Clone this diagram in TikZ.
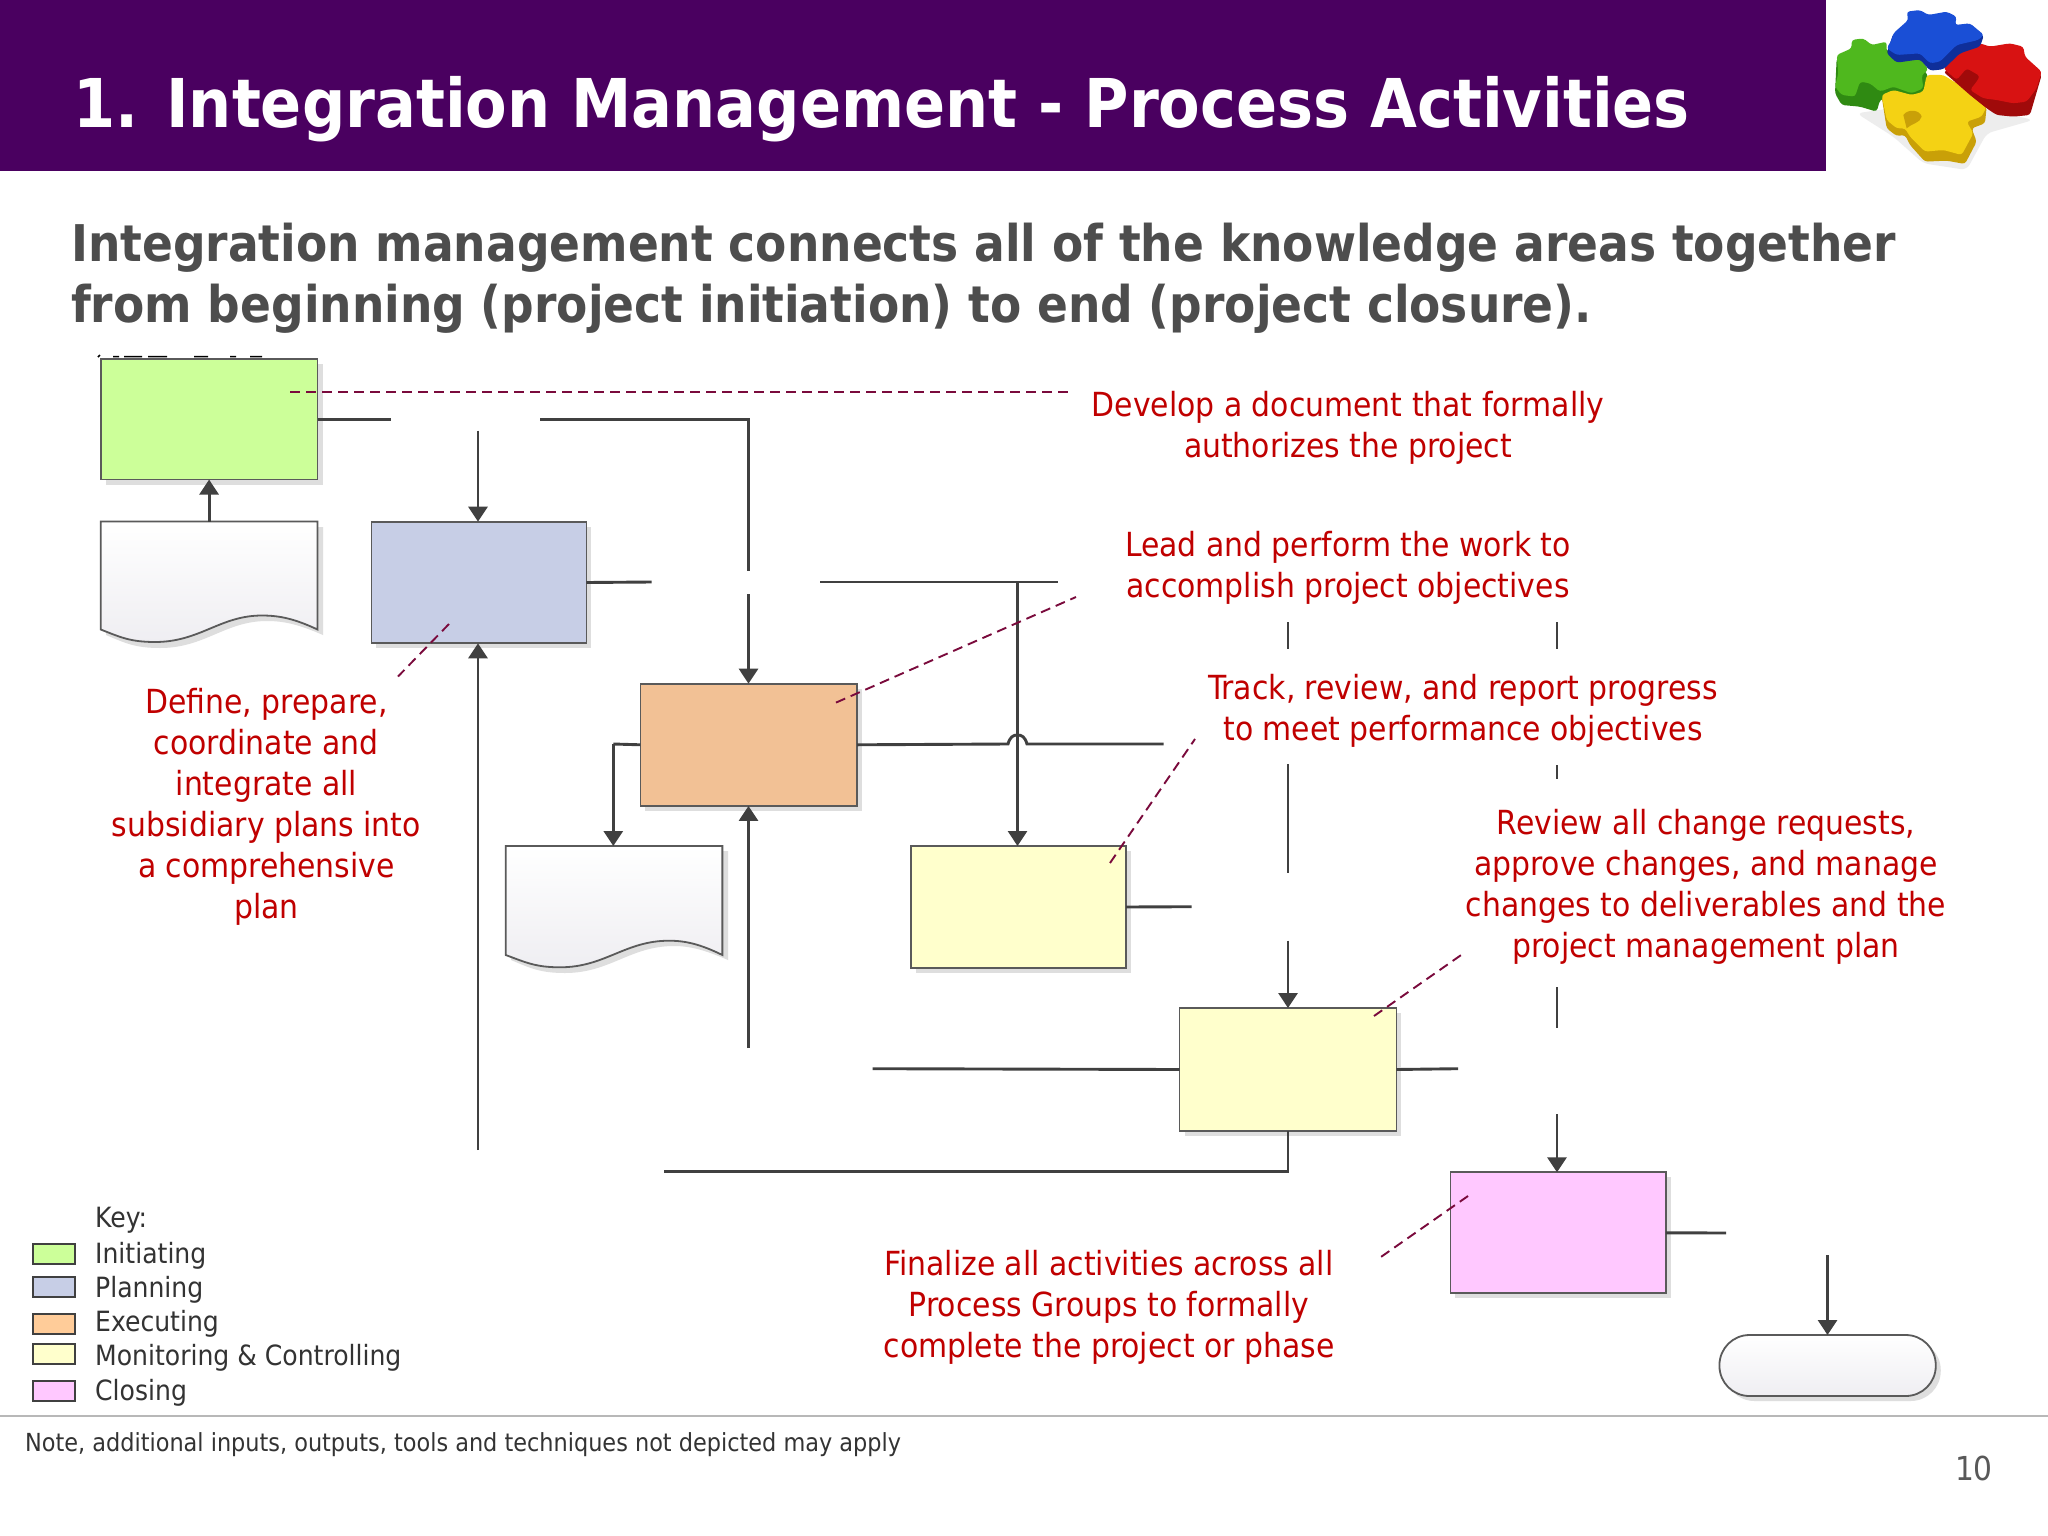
\documentclass[tikz,border=0pt]{standalone}
\usepackage{fontspec}
\setmainfont{DejaVu Sans Condensed}
\usetikzlibrary{arrows.meta,shadows,calc}
\definecolor{headcol}{HTML}{4A0060}
\definecolor{subcol}{HTML}{4D4D4D}
\definecolor{redtxt}{HTML}{C00000}
\definecolor{dashcol}{HTML}{7A0A3C}
\definecolor{linecol}{HTML}{404040}
\definecolor{edgecol}{HTML}{5A5A5A}
\definecolor{greenbox}{HTML}{CCFF99}
\definecolor{bluebox}{HTML}{C7CEE6}
\definecolor{orangebox}{HTML}{F2C195}
\definecolor{keyorange}{HTML}{FFCC99}
\definecolor{yellowbox}{HTML}{FFFFCC}
\definecolor{pinkbox}{HTML}{FFC8FF}
\definecolor{docbot}{HTML}{EFEEF2}
\definecolor{shadowcol}{HTML}{DEDEDE}
\definecolor{keytxt}{HTML}{333333}
\definecolor{pgnum}{HTML}{595959}
\definecolor{pzgreen}{HTML}{4FB81E}
\definecolor{pzgreend}{HTML}{2F8A12}
\definecolor{pzblue}{HTML}{1A4FD6}
\definecolor{pzblued}{HTML}{0F2F9A}
\definecolor{pzred}{HTML}{D81212}
\definecolor{pzredd}{HTML}{A00A0A}
\definecolor{pzyel}{HTML}{F4D214}
\definecolor{pzyeld}{HTML}{C9A008}
\tikzset{
  procbox/.style={draw=edgecol,line width=1.8pt,minimum width=#1,inner sep=0pt,outer sep=0pt,
    drop shadow={shadow xshift=5pt,shadow yshift=-5pt,fill=shadowcol,opacity=1}},
  conn/.style={draw=linecol,line width=2.9pt},
  arr/.style={conn,-{Triangle[length=15pt,width=19pt]}},
  calldash/.style={draw=dashcol,line width=1.9pt,dash pattern=on 10pt off 6pt},
  redlabel/.style={text=redtxt,align=center,font=\fontsize{33.2}{41}\selectfont,inner sep=0pt},
  keybox/.style={draw=linecol,line width=2pt,inner sep=0pt,minimum width=42pt,minimum height=20pt},
  keylabel/.style={text=keytxt,anchor=west,inner sep=0pt,font=\fontsize{27.9}{30}\selectfont},
  docshape/.style={draw=edgecol,line width=1.8pt,top color=white,bottom color=docbot},
  artefact/.style={draw=black,line width=1.5pt}
}
\begin{document}
\begin{tikzpicture}[x=1pt,y=-1pt]
\useasboundingbox (0,0) rectangle (2048,1536);
\fill[white] (0,0) rectangle (2048,1536);
% header
\fill[headcol] (0,0) rectangle (1826,171);
\node[anchor=base west,text=white,inner sep=0pt,font=\bfseries\fontsize{67.3}{70}\selectfont] (title) at (73,128) {1. Integration Management - Process Activities};
\node[anchor=base west,text=subcol,inner sep=0pt,font=\bfseries\fontsize{50.6}{61}\selectfont] (sub1) at (71,261) {Integration management connects all of the knowledge areas together};
\node[anchor=base west,text=subcol,inner sep=0pt,font=\bfseries\fontsize{50.6}{61}\selectfont] (sub2) at (71,322) {from beginning (project initiation) to end (project closure).};
% puzzle picture
\begin{scope}[shift={(1780,0)},x=0.3333pt,y=-0.3333pt]
  \fill[black!7,rounded corners=6pt] (230,340) -- (340,410) -- (430,490) -- (560,510) -- (620,400) -- (760,360) -- (500,300) -- cycle;
  % green
  \fill[pzgreend,rounded corners=3pt] (170,175) -- (215,155) -- (250,135) -- (320,145) -- (350,200) -- (420,190) -- (445,230) -- (430,290) -- (395,300) -- (340,285) -- (300,300) -- (290,335) -- (240,320) -- (185,315) -- (165,280) -- cycle;
  \fill[pzgreen,rounded corners=3pt] (170,165) -- (215,145) -- (215,120) -- (250,115) -- (275,135) -- (320,125) -- (320,160) -- (350,180) -- (420,170) -- (445,210) -- (425,225) -- (430,265) -- (395,280) -- (340,260) -- (300,275) -- (270,250) -- (240,245) -- (225,290) -- (185,285) -- (165,260) -- (175,220) -- cycle;
  % yellow
  \fill[pzyeld,rounded corners=3pt] (305,290) -- (320,385) -- (350,408) -- (375,405) -- (390,435) -- (435,485) -- (500,482) -- (555,492) -- (590,425) -- (575,385) -- (615,370) -- (620,320) -- cycle;
  \fill[pzyel,rounded corners=3pt] (305,285) -- (340,270) -- (395,285) -- (430,275) -- (440,225) -- (490,225) -- (530,250) -- (590,240) -- (570,280) -- (620,320) -- (605,350) -- (560,365) -- (580,400) -- (545,465) -- (490,450) -- (435,455) -- (390,410) -- (375,385) -- (350,385) -- (320,360) -- cycle;
  \fill[pzyeld] (370,345) .. controls (385,325) and (420,330) .. (425,350) .. controls (420,370) and (395,370) .. (380,385) -- cycle;
  % red
  \fill[pzredd,rounded corners=3pt] (490,215) -- (570,285) -- (620,325) -- (650,345) -- (700,350) -- (750,345) -- (785,225) -- (690,150) -- cycle;
  \fill[pzred,rounded corners=3pt] (490,205) -- (540,150) -- (600,130) -- (630,140) -- (690,130) -- (730,140) -- (735,170) -- (785,215) -- (770,265) -- (740,305) -- (700,310) -- (650,300) -- (610,295) -- (570,270) -- (590,245) -- (600,228) -- (560,205) -- (530,240) -- cycle;
  % blue
  \fill[pzblued,rounded corners=3pt] (320,160) -- (350,188) -- (420,178) -- (450,212) -- (490,208) -- (540,160) -- (600,140) -- (612,105) -- (340,100) -- cycle;
  \fill[pzblue,rounded corners=3pt] (340,100) -- (385,60) -- (380,35) -- (420,30) -- (445,45) -- (500,35) -- (530,50) -- (525,75) -- (570,70) -- (612,105) -- (595,120) -- (530,135) -- (480,185) -- (450,190) -- (420,160) -- (350,165) -- (320,145) -- (335,120) -- cycle;
\end{scope}
% process boxes
\node[procbox=216.8pt,minimum height=120.5pt,fill=greenbox] (initbox) at (209.1,419.3) {};
\node[procbox=215pt,minimum height=121.6pt,fill=bluebox] (planbox) at (478.9,582.5) {};
\node[procbox=216.6pt,minimum height=122.3pt,fill=orangebox] (execbox) at (748.7,744.8) {};
\node[procbox=215pt,minimum height=122pt,fill=yellowbox] (monbox) at (1018.5,907) {};
\node[procbox=216.9pt,minimum height=123pt,fill=yellowbox] (chgbox) at (1288,1069.5) {};
\node[procbox=215.5pt,minimum height=121pt,fill=pinkbox] (closebox) at (1558.2,1232.8) {};
\node[draw=none,minimum width=216.8pt,minimum height=108pt,inner sep=0pt,outer sep=0pt] (doca) at (209.1,575.5) {};
\node[draw=none,minimum width=216.7pt,minimum height=109pt,inner sep=0pt,outer sep=0pt] (docb) at (614,900.5) {};
% documents
\fill[shadowcol] (106,527) -- (323,527) -- (323,635) .. controls (300,625) and (285,621) .. (267,621) .. controls (225,621) and (205,648) .. (160,648) .. controls (135,648) and (125,643) .. (106,635) -- cycle;
\draw[docshape] (doca.north west) -- (doca.north east) -- (doca.south east) .. controls (295,619) and (280,615.5) .. (262,615.5) .. controls (220,615.5) and (200,642) .. (155,642) .. controls (130,642) and (120,637) .. (doca.south west) -- cycle;
\fill[shadowcol] (511,851) -- (728,851) -- (728,960) .. controls (705,950) and (690,946) .. (674,946) .. controls (630,946) and (610,973) .. (565,973) .. controls (540,973) and (530,968) .. (511,960) -- cycle;
\draw[docshape] (docb.north west) -- (docb.north east) -- (docb.south east) .. controls (700,944) and (685,940.7) .. (669,940.7) .. controls (625,940.7) and (605,967.3) .. (560,967.3) .. controls (535,967.3) and (525,962) .. (docb.south west) -- cycle;
% terminator
\node[draw=edgecol,line width=1.8pt,minimum width=216.3pt,minimum height=61pt,inner sep=0pt,outer sep=0pt,rounded corners=30pt,top color=white,bottom color=docbot,drop shadow={shadow xshift=5pt,shadow yshift=-5pt,fill=shadowcol,opacity=1}] (termbox) at (1827.6,1365.5) {};
% free-end coordinates
\coordinate (initstub) at (391.4,419.3);
\coordinate (initr) at (540,419.3);
\coordinate (initcorner) at (748.5,419.3);
\coordinate (toexecgap) at (748.5,571);
\coordinate (toexec) at (748.5,594);
\coordinate (toplan) at (478,430.7);
\coordinate (fromchg) at (478,1150);
\coordinate (execup) at (748.5,1048);
\coordinate (planstub) at (651.7,582);
\coordinate (planr) at (820,582);
\coordinate (planend) at (1058,582);
\coordinate (plandown) at (1017.5,582);
\coordinate (hopa) at (1008,744);
\coordinate (hopb) at (1027,744);
\coordinate (execend) at (1163.5,744);
\coordinate (execl) at (613.3,744);
\coordinate (monstub) at (1191.6,906.7);
\coordinate (chgin) at (872.6,1068.7);
\coordinate (chgstub) at (1458,1068.7);
\coordinate (chgdown) at (1288,1171.8);
\coordinate (chgleft) at (663.7,1171.8);
\coordinate (va1) at (1288,622);
\coordinate (va2) at (1288,649);
\coordinate (va3) at (1288,764);
\coordinate (va4) at (1288,873);
\coordinate (va5) at (1288,940.6);
\coordinate (vb1) at (1557,622);
\coordinate (vb2) at (1557,649);
\coordinate (vb3) at (1557,765);
\coordinate (vb4) at (1557,779);
\coordinate (vb5) at (1557,987);
\coordinate (vb6) at (1557,1028);
\coordinate (vb7) at (1557,1114);
\coordinate (closestub) at (1726,1233);
\coordinate (toterm) at (1827.5,1255);
% connectors
\draw[arr] (doca.north) -- (initbox.south);
\draw[conn] (initbox.east) -- (initstub);
\draw[conn] (initr) -- (initcorner) -- (toexecgap);
\draw[arr] (toexec) -- (execbox.north -| toexec);
\draw[arr] (toplan) -- (planbox.north -| toplan);
\draw[arr] (fromchg) -- (planbox.south -| fromchg);
\draw[arr] (execup) -- (execbox.south -| execup);
\draw[conn] (planbox.east) -- (planstub);
\draw[conn] (planr) -- (planend);
\draw[arr] (plandown) -- (monbox.north -| plandown);
\draw[conn] (execbox.east) -- (hopa) .. controls (1010,737) and (1013,735) .. (1017.5,735) .. controls (1022,735) and (1025,737) .. (hopb) -- (execend);
\draw[conn] (execbox.west) -- (execl);
\draw[arr] (execl) -- (docb.north -| execl);
\draw[conn] (monbox.east) -- (monstub);
\draw[conn] (chgin) -- (chgbox.west);
\draw[conn] (chgbox.east) -- (chgstub);
\draw[conn] (chgbox.south) -- (chgdown) -- (chgleft);
\draw[conn] (va1) -- (va2);
\draw[conn] (va3) -- (va4);
\draw[arr] (va5) -- (chgbox.north);
\draw[conn] (vb1) -- (vb2);
\draw[conn] (vb3) -- (vb4);
\draw[conn] (vb5) -- (vb6);
\draw[arr] (vb7) -- (closebox.north -| vb7);
\draw[conn] (closebox.east) -- (closestub);
\draw[arr] (toterm) -- (termbox.north -| toterm);
% artefacts above the first box
\draw[artefact] (98,357) -- (100,355) (113,356.5) -- (119,356.5) (124,356.5) -- (142,356.5) (148,356.5) -- (167,356.5) (194,356.5) -- (208,356.5) (230,356.5) -- (236,356.5) (250,356.5) -- (262,356.5);
% callouts
\node[redlabel] (l1) at (1348,427.5) {Develop a document that formally\\authorizes the project};
\node[redlabel] (l2) at (1348,567.5) {Lead and perform the work to\\accomplish project objectives};
\node[redlabel] (l3) at (1463,711) {Track, review, and report progress\\to meet performance objectives};
\node[redlabel] (l4) at (1706,886.5) {Review all change requests,\\approve changes, and manage\\changes to deliverables and the\\project management plan};
\node[redlabel] (l5) at (266.4,806.5) {Define, prepare,\\coordinate and\\integrate all\\subsidiary plans into\\a comprehensive\\plan};
\node[redlabel] (l6) at (1109,1307.5) {Finalize all activities across all\\Process Groups to formally\\complete the project or phase};
\coordinate (d1a) at (290,392); \coordinate (d1b) at (1073.6,392);
\coordinate (d2a) at (449,624); \coordinate (d2b) at (398,676.5);
\coordinate (d3a) at (836,702.6); \coordinate (d3b) at (1076,597);
\coordinate (d4a) at (1110,863); \coordinate (d4b) at (1195,739);
\coordinate (d5a) at (1374,1016); \coordinate (d5b) at (1464,953);
\coordinate (d6a) at (1468,1196); \coordinate (d6b) at (1378,1259);
\draw[calldash] (d1a) -- (d1b);
\draw[calldash] (d2a) -- (d2b);
\draw[calldash] (d3a) -- (d3b);
\draw[calldash] (d4a) -- (d4b);
\draw[calldash] (d5a) -- (d5b);
\draw[calldash] (d6a) -- (d6b);
% key
\node[keylabel] (keyt) at (95,1220.5) {Key:};
\node[keybox,fill=greenbox] (k1) at (54,1253.5) {};
\node[keylabel] (k1t) at (95,1255.5) {Initiating};
\node[keybox,fill=bluebox] (k2) at (54,1287) {};
\node[keylabel] (k2t) at (95,1289.5) {Planning};
\node[keybox,fill=keyorange] (k3) at (54,1323.5) {};
\node[keylabel] (k3t) at (95,1323.5) {Executing};
\node[keybox,fill=yellowbox] (k4) at (54,1354) {};
\node[keylabel] (k4t) at (95,1357.5) {Monitoring \& Controlling};
\node[keybox,fill=pinkbox] (k5) at (54,1391) {};
\node[keylabel] (k5t) at (95,1392.5) {Closing};
% footer
\draw[black!28,line width=2pt] (0,1416) -- (2048,1416);
\node[anchor=west,text=keytxt,inner sep=0pt,font=\fontsize{24.9}{28}\selectfont] (note) at (25,1445) {Note, additional inputs, outputs, tools and techniques not depicted may apply};
\node[anchor=east,text=pgnum,inner sep=0pt,font=\fontsize{33}{36}\selectfont] (pg) at (1993,1468) {10};
\end{tikzpicture}
\end{document}
